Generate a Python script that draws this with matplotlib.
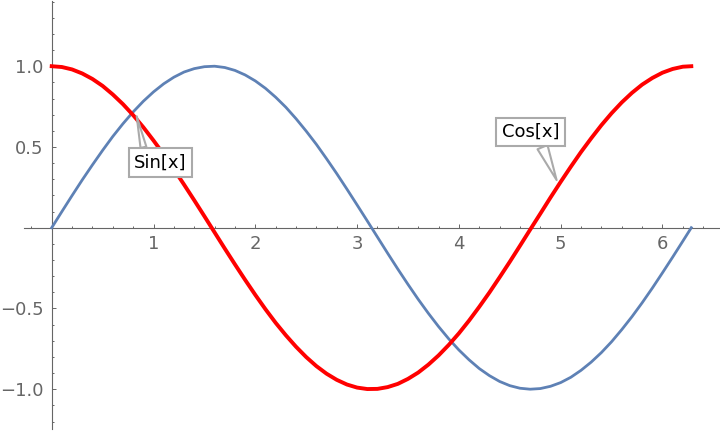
import matplotlib
matplotlib.use("Agg")
import matplotlib.pyplot as plt

x = [0.0, 0.1, 0.2, 0.3, 0.4, 0.5, 0.6, 0.7, 0.8, 0.9, 1.0, 1.1, 1.2, 1.3, 1.4,
     1.5, 1.6, 1.7, 1.8, 1.9, 2.0, 2.1, 2.2, 2.3, 2.4, 2.5, 2.6, 2.7, 2.8, 2.9,
     3.0, 3.1, 3.2, 3.3, 3.4, 3.5, 3.6, 3.7, 3.8, 3.9, 4.0, 4.1, 4.2, 4.3, 4.4,
     4.5, 4.6, 4.7, 4.8, 4.9, 5.0, 5.1, 5.2, 5.3, 5.4, 5.5, 5.6, 5.7, 5.8, 5.9,
     6.0, 6.1, 6.2, 6.283]
sin_y = [0.0, 0.100, 0.199, 0.296, 0.389, 0.479, 0.565, 0.644, 0.717, 0.783,
         0.841, 0.891, 0.932, 0.964, 0.985, 0.997, 1.000, 0.992, 0.974, 0.946,
         0.909, 0.863, 0.808, 0.746, 0.675, 0.598, 0.516, 0.427, 0.335, 0.239,
         0.141, 0.042, -0.058, -0.158, -0.256, -0.351, -0.443, -0.530, -0.612,
         -0.688, -0.757, -0.818, -0.872, -0.916, -0.952, -0.978, -0.994, -1.000,
         -0.996, -0.982, -0.959, -0.926, -0.883, -0.832, -0.773, -0.706, -0.631,
         -0.551, -0.465, -0.374, -0.279, -0.182, -0.083, 0.0]
cos_y = [1.0, 0.995, 0.980, 0.955, 0.921, 0.878, 0.825, 0.765, 0.697, 0.622,
         0.540, 0.454, 0.362, 0.267, 0.170, 0.071, -0.029, -0.129, -0.227,
         -0.323, -0.416, -0.505, -0.589, -0.666, -0.737, -0.801, -0.857, -0.904,
         -0.942, -0.971, -0.990, -0.999, -0.998, -0.987, -0.967, -0.936, -0.897,
         -0.848, -0.791, -0.726, -0.654, -0.575, -0.490, -0.401, -0.307, -0.211,
         -0.112, -0.012, 0.087, 0.187, 0.284, 0.378, 0.469, 0.554, 0.635, 0.709,
         0.776, 0.835, 0.886, 0.927, 0.960, 0.983, 0.997, 1.0]

xticks = [1, 2, 3, 4, 5, 6]
yticks = [-1.0, -0.5, 0.5, 1.0]
xminor = [-0.2, 0.2, 0.4, 0.6, 0.8, 1.2, 1.4, 1.6, 1.8, 2.2, 2.4, 2.6, 2.8,
          3.2, 3.4, 3.6, 3.8, 4.2, 4.4, 4.6, 4.8, 5.2, 5.4, 5.6, 5.8, 6.2, 6.4]
yminor = [-1.2, -1.1, -0.9, -0.8, -0.7, -0.6, -0.4, -0.3, -0.2, -0.1,
          0.1, 0.2, 0.3, 0.4, 0.6, 0.7, 0.8, 0.9, 1.1, 1.2, 1.3, 1.4]

# callouts: label, point on curve, box centre
sin_label, sin_tip, sin_box = "Sin[x]", (0.835, 0.69), (1.069, 0.404)
cos_label, cos_tip, cos_box = "Cos[x]", (4.96, 0.295), (4.705, 0.593)

blue = "#5e81b5"
red = "#ff0000"
axcol = "#666666"

fig = plt.figure(figsize=(7.2, 4.32), dpi=100)
ax = fig.add_axes([0, 0, 1, 1])
ax.set_xlim(-0.508, 6.565)
ax.set_ylim(-1.265, 1.41)

ax.plot(x, sin_y, color=blue, lw=2.0, zorder=3)
ax.plot(x, cos_y, color=red, lw=2.8, zorder=3)

for s in ["top", "right"]:
    ax.spines[s].set_visible(False)
ax.spines["left"].set_position(("data", 0))
ax.spines["bottom"].set_position(("data", 0))
ax.spines["left"].set_bounds(-1.246, 1.404)
ax.spines["bottom"].set_bounds(-0.272, 6.565)
for s in ["left", "bottom"]:
    ax.spines[s].set_color(axcol)
    ax.spines[s].set_linewidth(0.8)

ax.set_xticks(xticks)
ax.set_yticks(yticks)
ax.set_xticks(xminor, minor=True)
ax.set_yticks(yminor, minor=True)
ax.tick_params(which="both", direction="in", color=axcol, width=0.7,
               labelcolor="#666666", labelsize=13)
ax.tick_params(which="major", length=2.6)
ax.tick_params(which="minor", length=1.5)
ax.tick_params(axis="x", pad=5)
ax.tick_params(axis="y", pad=6)

box = dict(boxstyle="square,pad=0.3", fc="white", ec="#aaaaaa", lw=1.5)
ax.annotate(sin_label, xy=sin_tip, xytext=sin_box, ha="center", va="center",
            fontsize=13, color="black", bbox=box, zorder=5,
            arrowprops=dict(arrowstyle="wedge,tail_width=0.33,shrink_factor=0.5",
                            fc="white", ec="#aaaaaa", lw=1.5, relpos=(0.2, 1.0),
                            shrinkA=0, shrinkB=0))
ax.annotate(cos_label, xy=cos_tip, xytext=cos_box, ha="center", va="center",
            fontsize=13, color="black", bbox=box, zorder=5,
            arrowprops=dict(arrowstyle="wedge,tail_width=0.6,shrink_factor=0.5",
                            fc="white", ec="#aaaaaa", lw=1.5, relpos=(0.66, 0.0),
                            shrinkA=0, shrinkB=0))

fig.savefig("out.png", dpi=100)
